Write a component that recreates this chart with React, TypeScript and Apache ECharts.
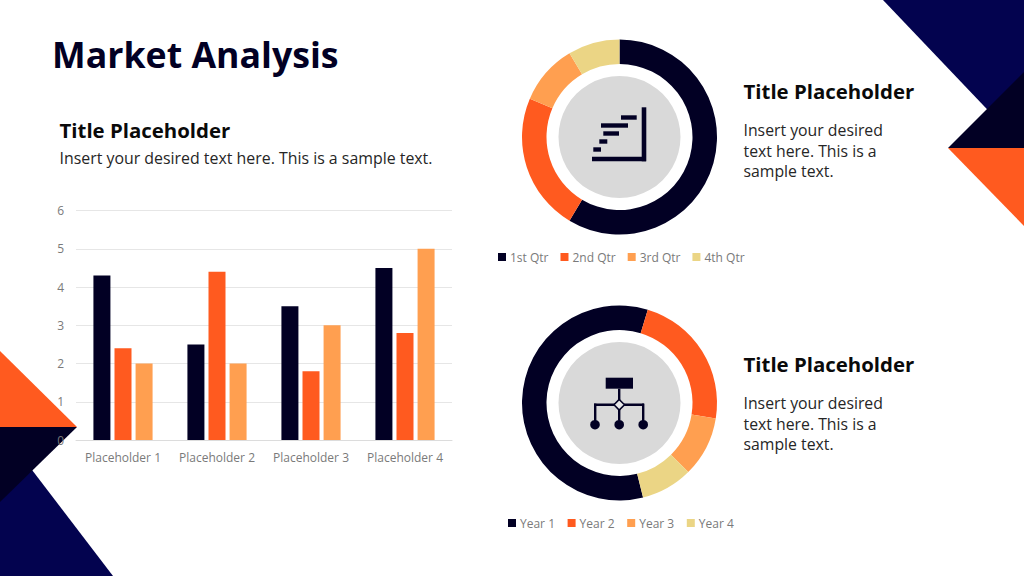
import React, { useEffect, useRef } from "react";
import * as echarts from "echarts";

const FONT = '"Open Sans", "Noto Sans", sans-serif';
const INK = "#020024";
const NAVY = "#03034F";
const ORANGE = "#FF5A1F";
const PEACH = "#FF9F50";
const SAND = "#EBD585";

const categories = ["Placeholder 1", "Placeholder 2", "Placeholder 3", "Placeholder 4"];
const series1 = [4.3, 2.5, 3.5, 4.5];
const series2 = [2.4, 4.4, 1.8, 2.8];
const series3 = [2, 2, 3, 5];
const yTickMax = 6;

const qtrNames = ["1st Qtr", "2nd Qtr", "3rd Qtr", "4th Qtr"];
const qtrValues = [8.2, 3.2, 1.4, 1.2];
const yearNames = ["Year 1", "Year 2", "Year 3", "Year 4"];
const yearValues = [8.2, 3.2, 1.4, 1.2];
const sliceColors = [INK, ORANGE, PEACH, SAND];

const bodyLines = ["Insert your desired", "text here. This is a", "sample text."];

const poly = (points: number[][], fill: string) => ({
  type: "polygon",
  z: -10,
  silent: true,
  shape: { points },
  style: { fill },
});
const box = (x: number, y: number, width: number, height: number) => ({
  type: "rect",
  z: 10,
  silent: true,
  shape: { x, y, width, height },
  style: { fill: INK },
});
const txt = (x: number, y: number, text: string, fontSize: number, fontWeight: any, fill: string) => ({
  type: "text",
  z: 10,
  silent: true,
  x,
  y,
  style: { text, fontSize, fontWeight, fontFamily: FONT, fill, textVerticalAlign: "middle", textAlign: "left" },
});
const disc = (cx: number, cy: number, r: number, fill: string, z = 10) => ({
  type: "circle",
  z,
  silent: true,
  shape: { cx, cy, r },
  style: { fill },
});

const donut = (cy: number, startAngle: number, names: string[], values: number[]) => ({
  type: "pie",
  silent: true,
  center: [619.5, cy],
  radius: [73, 97.5],
  startAngle,
  label: { show: false },
  labelLine: { show: false },
  data: names.map((name, i) => ({ name, value: values[i], itemStyle: { color: sliceColors[i] } })),
});

const legend = (left: number, top: number, data: string[], itemGap: number) => ({
  left,
  top,
  data,
  orient: "horizontal",
  icon: "rect",
  itemWidth: 8,
  itemHeight: 8,
  itemGap,
  selectedMode: false,
  padding: 0,
  textStyle: { color: "#7a7a7a", fontSize: 12, fontFamily: FONT, padding: [0, 0, 0, -1] },
});

export default function App() {
  const ref = useRef<HTMLDivElement>(null);
  useEffect(() => {
    const chart = echarts.init(ref.current!, undefined, { renderer: "svg" });
    chart.setOption({
      animation: false,
      backgroundColor: "#fff",
      grid: { left: 76, top: 210.5, width: 376, height: 229.5 },
      xAxis: {
        type: "category",
        data: categories,
        axisTick: { show: false },
        axisLine: { lineStyle: { color: "#dcdcdc", width: 1 } },
        axisLabel: { color: "#7a7a7a", fontSize: 12, fontFamily: FONT, margin: 11, interval: 0 },
      },
      yAxis: {
        type: "value",
        min: 0,
        max: yTickMax,
        interval: 1,
        axisLine: { show: false },
        axisTick: { show: false },
        splitLine: { lineStyle: { color: "#e6e6e6", width: 1 } },
        axisLabel: { color: "#7a7a7a", fontSize: 12, fontFamily: FONT, margin: 12 },
      },
      legend: [legend(498, 251, qtrNames, 12), legend(508, 517, yearNames, 12.6)],
      series: [
        { type: "bar", data: series1, barWidth: 17, barGap: "24%", itemStyle: { color: INK } },
        { type: "bar", data: series2, barWidth: 17, barGap: "24%", itemStyle: { color: ORANGE } },
        { type: "bar", data: series3, barWidth: 17, barGap: "24%", itemStyle: { color: PEACH } },
        donut(137, 90, qtrNames, qtrValues),
        donut(403, -76, yearNames, yearValues),
      ],
      graphic: {
        elements: [
          poly([[883, 0], [1024, 0], [1024, 148]], NAVY),
          poly([[948, 148], [1024, 148], [1024, 72]], INK),
          poly([[948, 148], [1024, 148], [1024, 226]], ORANGE),
          poly([[0, 428], [113, 576], [0, 576]], NAVY),
          poly([[0, 427], [77, 427], [0, 502]], INK),
          poly([[0, 351], [77, 427], [0, 427]], ORANGE),

          txt(52, 54, "Market Analysis", 35.7, 700, INK),
          txt(59.5, 129.5, "Title Placeholder", 20.4, 700, "#0a0a0a"),
          txt(59.5, 158, "Insert your desired text here. This is a sample text.", 15.9, 400, "#262626"),

          txt(743.5, 91, "Title Placeholder", 20.4, 700, "#0a0a0a"),
          ...bodyLines.map((line, i) => txt(743.5, 130 + i * 20.5, line, 15.8, 400, "#262626")),
          txt(743.5, 364, "Title Placeholder", 20.4, 700, "#0a0a0a"),
          ...bodyLines.map((line, i) => txt(743.5, 403 + i * 20.5, line, 15.8, 400, "#262626")),

          disc(619.5, 137, 61, "#D9D9D9", 5),
          box(641.7, 107.3, 4.6, 54),
          box(592, 156.7, 54, 4.6),
          box(621, 115.3, 15.7, 4.4),
          box(601, 123.3, 27, 4.4),
          box(603.3, 131.3, 15.7, 4.4),
          box(599.3, 139.3, 8, 4.4),
          box(593.3, 147.3, 7.7, 4.4),

          disc(619.5, 403, 61, "#D9D9D9", 5),
          box(605.7, 377.7, 27.3, 11),
          box(618, 388.7, 2.4, 32),
          box(594, 403.6, 50, 2.4),
          box(594, 403.6, 2.4, 18),
          box(642, 403.6, 2.4, 18),
          {
            type: "polygon",
            z: 11,
            silent: true,
            shape: { points: [[619.2, 399.5], [624.5, 404.8], [619.2, 410], [614, 404.8]] },
            style: { fill: "#E8E8E8", stroke: INK, lineWidth: 1.6 },
          },
          disc(595, 424.7, 4.8, INK),
          disc(619.2, 424.7, 4.8, INK),
          disc(643.2, 424.7, 4.8, INK),
        ],
      },
    });
    return () => chart.dispose();
  }, []);
  return <div ref={ref} style={{ position: "absolute", left: 0, top: 0, width: 1024, height: 576 }} />;
}
